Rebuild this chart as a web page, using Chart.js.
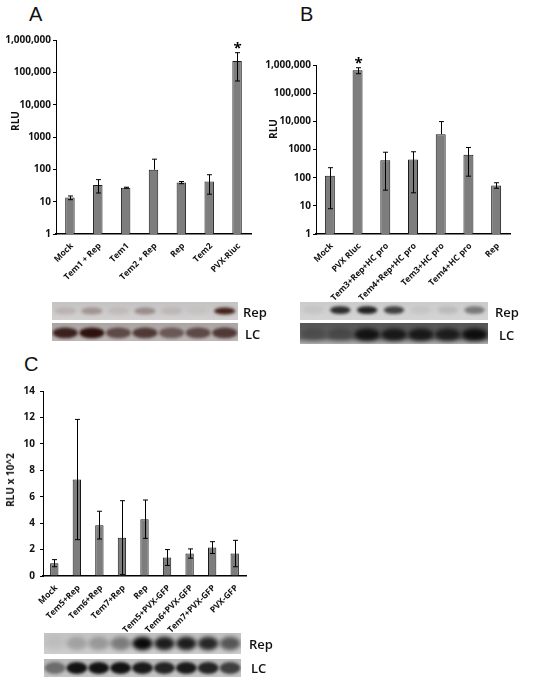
<!DOCTYPE html>
<html>
<head>
<meta charset="utf-8">
<script src="https://cdn.jsdelivr.net/npm/chart.js@4.4.1/dist/chart.umd.min.js"></script>
<style>
    body { margin: 0; background: #fff; }
    #fig { position: relative; width: 550px; height: 684px; overflow: hidden; background: #fff; }
    #fig canvas { position: absolute; }
    .letter { position: absolute; font: 20px/20px "Liberation Sans", Arial, sans-serif; color: #111; }
    .ytitle { position: absolute; font: bold 10px/10px "Open Sans", sans-serif; color: #111;
              transform: translate(-50%, -50%) rotate(-90deg); white-space: nowrap; }
    .blotlabel { position: absolute; font: 600 13px/13px "Open Sans", sans-serif; color: #111; }
</style>
</head>
<body>
<div id="fig">
    <div class="letter" style="left:29px;top:4px">A</div>
    <div class="letter" style="left:300px;top:4px">B</div>
    <div class="letter" style="left:24px;top:354px">C</div>

    <canvas id="chartA" width="260" height="292" style="left:0;top:0"></canvas>
    <canvas id="chartB" width="290" height="306" style="left:260px;top:0"></canvas>
    <canvas id="chartC" width="260" height="268" style="left:0;top:370px"></canvas>

    <div class="ytitle" style="left:15px;top:121px">RLU</div>
    <div class="ytitle" style="left:273px;top:129px">RLU</div>
    <div class="ytitle" style="left:10px;top:480px">RLU x 10^2</div>

    <canvas id="blotARep" width="186" height="18" style="left:52px;top:302px"></canvas>
    <canvas id="blotALC" width="186" height="18" style="left:52px;top:323px"></canvas>
    <canvas id="blotBRep" width="188" height="18" style="left:300px;top:302px"></canvas>
    <canvas id="blotBLC" width="188" height="21" style="left:300px;top:323px"></canvas>
    <canvas id="blotCRep" width="197" height="21" style="left:44px;top:633px"></canvas>
    <canvas id="blotCLC" width="197" height="18" style="left:44px;top:659px"></canvas>

    <div class="blotlabel" style="left:243px;top:306px">Rep</div>
    <div class="blotlabel" style="left:245px;top:328px">LC</div>
    <div class="blotlabel" style="left:495px;top:306px">Rep</div>
    <div class="blotlabel" style="left:499px;top:329px">LC</div>
    <div class="blotlabel" style="left:249px;top:638px">Rep</div>
    <div class="blotlabel" style="left:251px;top:662px">LC</div>
</div>
<script>
// Panel A - log scale RLU
const labelsA = ['Mock', 'Tem1 + Rep', 'Tem1', 'Tem2 + Rep', 'Rep', 'Tem2', 'PVX-Riuc'];
const rluA = [13.5, 33, 27, 97, 39, 42, 224000];
const lowA = [11.5, 18.5, 26, null, 36, 17, 54000];
const highA = [15, 48, 28, 206, 42, 68, 405000];

// Panel B - log scale RLU
const labelsB = ['Mock', 'PVX Rluc', 'Tem3+Rep+HC pro', 'Tem4+Rep+HC pro', 'Tem3+HC pro', 'Tem4+HC pro', 'Rep'];
const rluB = [118, 645000, 417, 440, 3500, 650, 53];
const lowB = [7.9, 490000, 36, 29, null, 113, 42];
const highB = [226, 800000, 800, 830, 9800, 1180, 66];

// Panel C - linear RLU x 10^2
const labelsC = ['Mock', 'Tem5+Rep', 'Tem6+Rep', 'Tem7+Rep', 'Rep', 'Tem5+PVX-GFP', 'Tem6+PVX-GFP', 'Tem7+PVX-GFP', 'PVX-GFP'];
const rluC = [0.97, 7.3, 3.85, 2.9, 4.3, 1.4, 1.7, 2.15, 1.7];
const lowC = [0.7, 2.75, 2.8, 0.1, 2.85, 0.8, 1.35, 1.7, 0.7];
const highC = [1.24, 11.85, 4.9, 5.7, 5.75, 2.0, 2.05, 2.6, 2.7];

const logTicks = [1, 10, 100, 1000, 10000, 100000, 1000000];
const logTickLabels = ['1', '10', '100', '1000', '10,000', '100,000', '1,000,000'];
const linTicks = [0, 2, 4, 6, 8, 10, 12, 14];

// blot lane intensities (0..1)
const blotARep = [0.12, 0.3, 0.08, 0.35, 0.1, 0.04, 0.95];
const blotALC = [0.9, 1.0, 0.65, 0.75, 0.55, 0.65, 0.75];
const blotBRep = [0.05, 0.85, 0.9, 0.75, 0.05, 0.1, 0.45];
const blotBLC = [0.25, 0.3, 0.9, 0.85, 0.85, 0.8, 0.95];
const blotCRep = [0.05, 0.2, 0.25, 0.4, 1.0, 0.9, 0.9, 0.85, 0.6];
const blotCLC = [0.45, 0.95, 0.95, 0.95, 0.9, 0.85, 0.9, 0.85, 0.7];

const tickFont = { family: 'Open Sans', size: 10, weight: 'bold' };
const catFont = { family: 'Open Sans', size: 8.5, weight: 'bold' };

// draws error bars (and an optional asterisk) from the y scale
const errorBars = {
    id: 'errorBars',
    afterDatasetsDraw(chart, args, opts) {
        const ctx = chart.ctx;
        const y = chart.scales.y;
        const meta = chart.getDatasetMeta(0);
        ctx.save();
        ctx.strokeStyle = '#000';
        ctx.fillStyle = '#000';
        ctx.lineWidth = 1;
        meta.data.forEach(function (bar, i) {
            const x = Math.round(bar.x) + 0.5;
            const top = y.getPixelForValue(opts.high[i]);
            const hasLow = opts.low[i] !== null && opts.low[i] !== undefined;
            const bottom = hasLow ? y.getPixelForValue(opts.low[i]) : bar.y;
            ctx.beginPath();
            ctx.moveTo(x, top);
            ctx.lineTo(x, bottom);
            ctx.moveTo(x - 2.5, top);
            ctx.lineTo(x + 2.5, top);
            if (hasLow) {
                ctx.moveTo(x - 2.5, bottom);
                ctx.lineTo(x + 2.5, bottom);
            }
            ctx.stroke();
            if (opts.star === i) {
                ctx.font = 'bold 15px "Open Sans"';
                ctx.textAlign = 'center';
                ctx.textBaseline = 'alphabetic';
                ctx.fillText('*', x, top);
            }
        });
        ctx.restore();
    }
};

function makeChart(id, labels, values, low, high, cfg) {
    const yScale = cfg.log ? {
        type: 'logarithmic',
        min: 1,
        max: 1000000,
        afterBuildTicks: function (s) { s.ticks = logTicks.map(v => ({ value: v })); },
        ticks: {
            font: tickFont, color: '#111', padding: cfg.yPad,
            callback: function (v) { return logTickLabels[logTicks.indexOf(v)]; }
        }
    } : {
        type: 'linear',
        min: 0,
        max: 14,
        afterBuildTicks: function (s) { s.ticks = linTicks.map(v => ({ value: v })); },
        ticks: { font: tickFont, color: '#111', padding: cfg.yPad }
    };
    yScale.grid = { display: true, drawOnChartArea: false, drawTicks: true, tickLength: 3, color: '#000' };
    yScale.border = { display: true, color: '#000', width: 1 };
    yScale.afterFit = function (s) { s.width = cfg.yWidth; };

    return new Chart(document.getElementById(id), {
        type: 'bar',
        data: {
            labels: labels,
            datasets: [{
                data: values,
                backgroundColor: '#7d7d7d',
                borderColor: '#1a1a1a',
                borderWidth: 1,
                borderSkipped: 'bottom',
                categoryPercentage: 1,
                barPercentage: cfg.barPct
            }]
        },
        options: {
            responsive: false,
            animation: false,
            devicePixelRatio: 1,
            layout: { padding: { top: cfg.top, right: cfg.right, left: 0, bottom: 0 } },
            plugins: {
                legend: { display: false },
                tooltip: { enabled: false },
                errorBars: { low: low, high: high, star: cfg.star }
            },
            scales: {
                x: {
                    grid: { display: true, drawOnChartArea: false, drawTicks: false },
                    border: { display: true, color: '#000', width: 1.5 },
                    ticks: {
                        autoSkip: false, minRotation: 45, maxRotation: 45,
                        font: catFont, color: '#111', padding: 7, labelOffset: 2
                    },
                    afterFit: function (s) { s.height = cfg.xHeight; }
                },
                y: yScale
            }
        },
        plugins: [errorBars]
    });
}

makeChart('chartA', labelsA, rluA, lowA, highA,
    { log: true, yWidth: 56, top: 40, right: 9, xHeight: 58, barPct: 0.34, yPad: 2, star: 6 });
makeChart('chartB', labelsB, rluB, lowB, highB,
    { log: true, yWidth: 56, top: 65, right: 40, xHeight: 72, barPct: 0.36, yPad: 2, star: 1 });
makeChart('chartC', labelsC, rluC, lowC, highC,
    { log: false, yWidth: 43, top: 21, right: 14, xHeight: 62, barPct: 0.37, yPad: 5, star: null });

// western blot strips
function drawBlot(id, lanes, style) {
    const c = document.getElementById(id);
    const ctx = c.getContext('2d');
    const w = c.width, h = c.height, lw = w / lanes.length;
    const g = ctx.createLinearGradient(0, 0, 0, h);
    style.bg.forEach(function (s) { g.addColorStop(s[0], s[1]); });
    ctx.fillStyle = g;
    ctx.fillRect(0, 0, w, h);
    ctx.filter = 'blur(' + style.blur + 'px)';
    ctx.fillStyle = style.band;
    lanes.forEach(function (a, i) {
        ctx.globalAlpha = a;
        ctx.beginPath();
        ctx.ellipse((i + 0.5) * lw, h * style.cy, lw * style.rx, h * style.ry, 0, 0, Math.PI * 2);
        ctx.fill();
    });
    ctx.filter = 'none';
    ctx.globalAlpha = 1;
}

drawBlot('blotARep', blotARep, { bg: [[0, '#c4c2c2'], [1, '#d2d0d0']], band: '#3e1a14', cy: 0.5, rx: 0.4, ry: 0.2, blur: 1.5 });
drawBlot('blotALC', blotALC, { bg: [[0, '#aaa4a3'], [1, '#bdb7b6']], band: '#2e120e', cy: 0.55, rx: 0.47, ry: 0.3, blur: 1.5 });
drawBlot('blotBRep', blotBRep, { bg: [[0, '#cbcbcb'], [1, '#d4d4d4']], band: '#111111', cy: 0.45, rx: 0.38, ry: 0.22, blur: 1.5 });
drawBlot('blotBLC', blotBLC, { bg: [[0, '#555555'], [0.7, '#676767'], [1, '#b0b0b0']], band: '#0a0a0a', cy: 0.55, rx: 0.48, ry: 0.3, blur: 2 });
drawBlot('blotCRep', blotCRep, { bg: [[0, '#c2c2c2'], [1, '#cecece']], band: '#0a0a0a', cy: 0.5, rx: 0.47, ry: 0.32, blur: 2 });
drawBlot('blotCLC', blotCLC, { bg: [[0, '#b8b8b8'], [1, '#c6c6c6']], band: '#080808', cy: 0.5, rx: 0.48, ry: 0.34, blur: 1.5 });
</script>
</body>
</html>
